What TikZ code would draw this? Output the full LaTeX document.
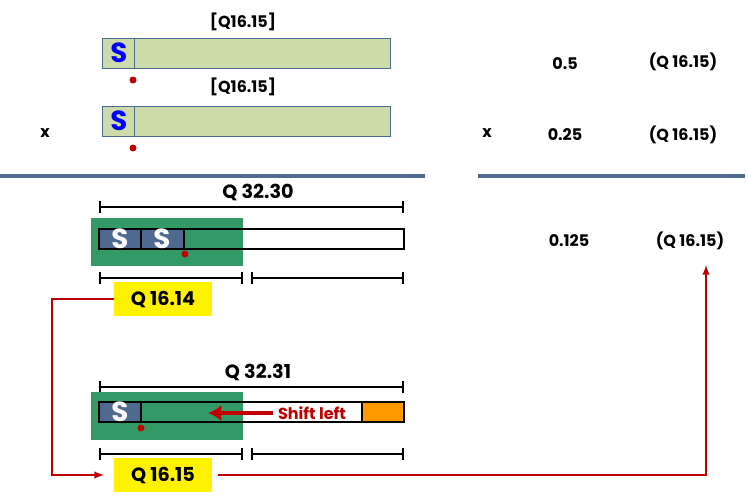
\documentclass[tikz,border=0pt]{standalone}
\usepackage{fontspec}
\setmainfont{Poppins}
\usetikzlibrary{arrows.meta}
\definecolor{pale}{RGB}{204,219,170}
\definecolor{sblue}{RGB}{79,106,145}
\definecolor{dgreen}{RGB}{51,153,102}
\definecolor{dred}{RGB}{192,0,0}
\definecolor{orng}{RGB}{255,153,0}
\begin{document}
\begin{tikzpicture}[x=0.75pt,y=-0.75pt, font=\bfseries\large,
  lbl/.style = {inner sep=1pt},
  tag/.style = {fill=yellow, minimum width=73.5pt, minimum height=25.5pt, font=\bfseries\Large},
  sgn/.style = {text=white, font=\bfseries\huge},
  span/.style = {line width=1.5pt, |-|},
  conn/.style = {dred, line width=1.5pt, -latex}]
\useasboundingbox (0,0) rectangle (747,501);
% top operands
\foreach \y/\t in {38/22, 106/87} {
  \draw[sblue, fill=pale] (102,\y) rectangle (390,\y+30);
  \draw[sblue] (134,\y) -- (134,\y+30);
  \node[text=blue, font=\bfseries\huge] at (119,\y+15) {S};
  \node[lbl] at (243,\t) {[Q16.15]};
  \fill[dred] (133,\y+42) circle (3.5);
}
\node (x1) at (45,133) {x};
\node (x2) at (487,133) {x};
\node (v1) at (565,64) {0.5};
\node (f1) at (683,62) {(Q 16.15)};
\node (v2) at (565,135) {0.25};
\node (f2) at (683,135) {(Q 16.15)};
\node (v3) at (569,241) {0.125};
\node (f3) at (690,241) {(Q 16.15)};
\draw[sblue, line width=2.5pt] (0,176) -- (425,176) (478,176) -- (745,176);
% Q 32.30 product
\node[font=\bfseries\Large] (p30) at (258,192) {Q 32.30};
\draw[span] (99,207) -- (404,207);
\fill[dgreen] (91,218) rectangle (243,266);
\fill[white] (243,229) rectangle (404,249);
\fill[sblue] (99,229) rectangle (184,249);
\draw[line width=1.5pt] (99,229) rectangle (404,249) (141,229) -- (141,249) (184,229) -- (184,249);
\node[sgn] at (120,239) {S};
\node[sgn] at (162,239) {S};
\fill[dred] (185,254) circle (3.5);
\draw[span] (99,278) -- (243,278);
\draw[span] (251,278) -- (404,278);
\node[tag] (t14) at (163,299) {Q 16.14};
% Q 32.31 product
\node[font=\bfseries\Large] (p31) at (258,372) {Q 32.31};
\draw[span] (99,387) -- (404,387);
\fill[dgreen] (91,392) rectangle (243,440);
\fill[white] (243,402) rectangle (362,422);
\fill[sblue] (99,402) rectangle (141,422);
\fill[orng] (362,402) rectangle (404,422);
\draw[line width=1.5pt] (99,402) rectangle (404,422) (141,402) -- (141,422) (362,402) -- (362,422);
\node[sgn] at (120,412) {S};
\fill[dred] (141,428) circle (3.5);
\node[text=dred, font=\bfseries\large] (sh) at (312,413) {Shift left};
\coordinate (sha) at (208,413);
\draw[dred, line width=3pt, -{Latex[length=10pt,width=12pt]}] (sh.west) -- (sha);
\draw[span] (99,454) -- (243,454);
\draw[span] (251,454) -- (404,454);
\node[tag] (t15) at (163,475) {Q 16.15};
% connectors
\coordinate (c1) at (52,296);
\coordinate (c2) at (104,475);
\coordinate (c3) at (706,265);
\draw[conn] (t14.west) -- (t14.west -| c1) |- (c2);
\draw[conn] ([xshift=4pt]t15.east) -| (c3);
\end{tikzpicture}
\end{document}
